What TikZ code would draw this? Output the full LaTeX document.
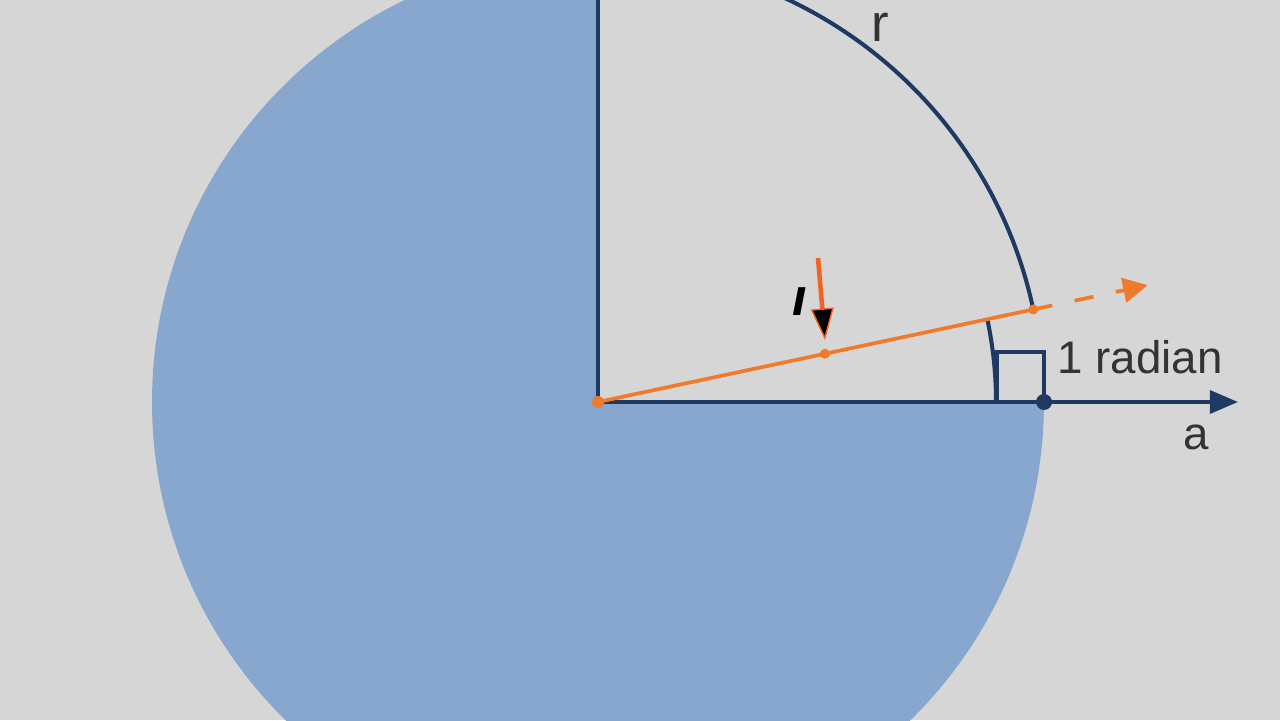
\documentclass[tikz,border=0pt]{standalone}
\usepackage{fontspec}
\setmainfont{Liberation Sans}
\usetikzlibrary{arrows.meta}
\definecolor{bg}{HTML}{D6D6D6}
\definecolor{disc}{HTML}{87A7CF}
\definecolor{navy}{HTML}{1F3A62}
\definecolor{orng}{HTML}{F07A2A}
\definecolor{txt}{HTML}{333333}
\newcommand{\bigfont}{\fontsize{30}{30}\selectfont}
\newcommand{\midfont}{\fontsize{26}{26}\selectfont}
\tikzset{x=0.02cm, y=0.02cm,
  navyline/.style={navy, line width=2.3pt},
  orngline/.style={orng, line width=2.1pt},
  lbl/.style={txt, font=\bigfont, inner sep=0pt}}

\begin{document}
\begin{tikzpicture}
  \useasboundingbox (0,0) rectangle (1280,720);
  \clip (0,0) rectangle (1280,720);
  \fill[bg] (0,0) rectangle (1280,720);
  \begin{scope}[shift={(598,318)}]
   \coordinate (o) at (0,0);
   \coordinate (p) at (12:445);
   \coordinate (m) at (12:232);
   \coordinate (q) at (12:562);
   \coordinate (d) at (446,0);
   \coordinate (e) at (640,0);
   \coordinate (t) at (0,420);
   \coordinate (s) at (220,144);
   \coordinate (u) at (227,62);
   % three quarters of the disc
   \fill[disc] (o) -- (d) arc[start angle=0, end angle=-270, radius=446] -- cycle;
   \draw[navyline] (o) -- (t);
   \draw[navyline] (p) arc[start angle=12, end angle=90, radius=445];
   \draw[navyline, -{Triangle[length=16pt, width=13pt]}] (o) -- (e);
   % angle mark and square
   \draw[navyline] (12:398) arc[start angle=12, end angle=0, radius=398];
   \draw[navyline] (399,0) -- (399,50) -- (446,50) -- (d);
   \fill[navy] (d) circle (8);
   % the radius in orange
   \draw[orngline] (o) -- (p);
   \draw[orngline, dash pattern=on 11pt off 13pt, -{Triangle[length=14pt, width=14pt]}] (p) -- (q);
   \fill[orng] (o) circle (6);
   \fill[orng] (p) circle (5);
   \fill[orng] (m) circle (5);
   \draw[orng!80!red, line width=2.6pt, -{Triangle[length=18pt, width=13pt, fill=black, line width=0.8pt]}] (s) -- (u);
   \node[lbl, text=black] (iota) at (202,100) {\bfseries\itshape ı};
  \end{scope}
  \node[lbl] (r) at (880,693) {r};
  \node[lbl, font=\midfont] (rad) at (1140,363) {1 radian};
  \node[lbl, font=\midfont] (a) at (1196,283) {a};
\end{tikzpicture}
\end{document}
